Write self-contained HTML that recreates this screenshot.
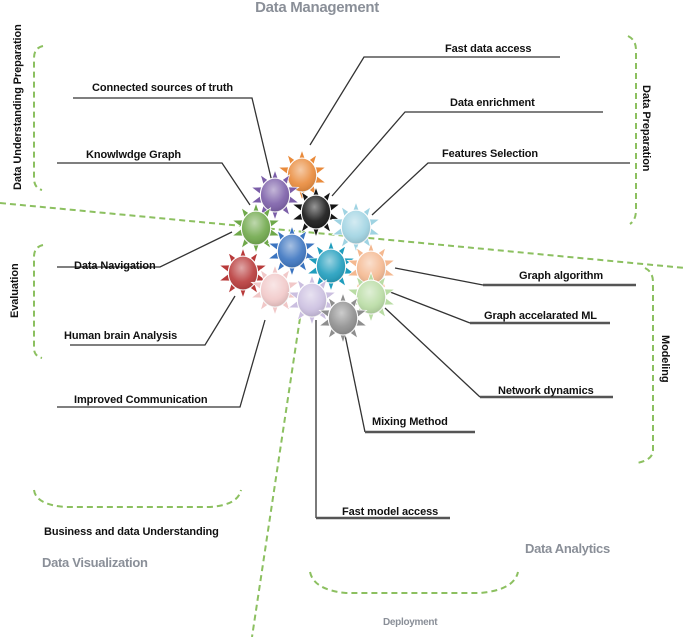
<!DOCTYPE html>
<html><head><meta charset="utf-8"><style>
html,body{margin:0;padding:0;background:#fff;}
svg{display:block;font-family:"Liberation Sans",sans-serif;}
.l{font-size:11px;font-weight:bold;fill:#111;letter-spacing:-0.1px;}
.g{font-weight:bold;fill:#8a8f98;letter-spacing:-0.3px;}
.d{fill:none;stroke:#8cc060;stroke-width:2;stroke-dasharray:6,4;}
.k{fill:none;stroke:#333;stroke-width:1.3;}
.h{fill:none;stroke:#555;stroke-width:2.5;}
</style></head><body>
<svg width="685" height="637" viewBox="0 0 685 637" xmlns="http://www.w3.org/2000/svg">
<defs>
<radialGradient id="sh" cx="0.45" cy="0.35" r="0.7">
<stop offset="0" stop-color="#fff" stop-opacity="0.55"/>
<stop offset="0.6" stop-color="#fff" stop-opacity="0.1"/>
<stop offset="1" stop-color="#000" stop-opacity="0.15"/>
</radialGradient>
<symbol id="gear" viewBox="-23 -23 46 46" overflow="visible">
<polygon fill="currentColor" stroke="#fff" stroke-width="0.6" points="0,-22 3.7,-11.4 12.9,-17.8 9.7,-7.1 20.9,-6.8 12,0 20.9,6.8 9.7,7.1 12.9,17.8 3.7,11.4 0,22 -3.7,11.4 -12.9,17.8 -9.7,7.1 -20.9,6.8 -12,0 -20.9,-6.8 -9.7,-7.1 -12.9,-17.8 -3.7,-11.4"/>
<ellipse cx="0" cy="0" rx="13" ry="15" fill="currentColor" stroke="#fff" stroke-width="1"/>
<ellipse cx="0" cy="0" rx="13" ry="15" fill="url(#sh)"/>
</symbol>
</defs>

<path class="d" d="M0,203 L685,268"/>
<path class="d" d="M300,318 L252,637"/>
<path class="d" d="M43,46 Q34,48 34,58 L34,178 Q34,188 42,190"/>
<path class="d" d="M628,36 Q636,40 636,50 L636,210 Q636,220 630,224"/>
<path class="d" d="M43,245 Q34,247 34,257 L34,348 Q34,356 42,358"/>
<path class="d" d="M645,268 Q653,272 653,282 L653,450 Q653,460 637,463"/>
<path class="d" d="M34,490 Q36,505 66,507 L210,507 Q238,505 241,490"/>
<path class="d" d="M310,572 Q314,590 346,593 L480,593 Q514,590 518,572"/>

<path class="k" d="M73,98 L252,98 L272,182"/>
<path class="k" d="M560,57 L364,57 L310,145"/>
<path class="k" d="M603,112 L405,112 L332,196"/>
<path class="k" d="M630,163 L428,163 L372,215"/>
<path class="k" d="M57,163 L222,163 L250,205"/>
<path class="k" d="M57,267 L160,267 L232,232"/>
<path class="k" d="M395,268 L483,285"/>
<path class="h" d="M483,285 L636,285"/>
<path class="k" d="M385,290 L470,323"/>
<path class="h" d="M470,323 L610,323"/>
<path class="k" d="M385,308 L480,397"/>
<path class="h" d="M480,397 L613,397"/>
<path class="k" d="M345,335 L365,432"/>
<path class="h" d="M365,432 L475,432"/>
<path class="k" d="M316,320 L316,518"/>
<path class="h" d="M316,518 L450,518"/>
<path class="k" d="M265,320 L240,407 L57,407"/>
<path class="k" d="M235,296 L205,345 L70,345"/>

<use href="#gear" x="276" y="149" width="52" height="52" style="color:#e98a3a"/>
<use href="#gear" x="249" y="169" width="52" height="52" style="color:#7b5ea8"/>
<use href="#gear" x="290" y="186" width="52" height="52" style="color:#151515"/>
<use href="#gear" x="230" y="202" width="52" height="52" style="color:#6fa84a"/>
<use href="#gear" x="330" y="201" width="52" height="52" style="color:#9fd3e2"/>
<use href="#gear" x="266" y="225" width="52" height="52" style="color:#3b74c0"/>
<use href="#gear" x="305" y="240" width="52" height="52" style="color:#1f9dbd"/>
<use href="#gear" x="345" y="242" width="52" height="52" style="color:#f4b890"/>
<use href="#gear" x="217" y="247" width="52" height="52" style="color:#b83a3a"/>
<use href="#gear" x="249" y="264" width="52" height="52" style="color:#f1c8c8"/>
<use href="#gear" x="286" y="274" width="52" height="52" style="color:#cbbfe0"/>
<use href="#gear" x="345" y="271" width="52" height="52" style="color:#b9dca4"/>
<use href="#gear" x="317" y="292" width="52" height="52" style="color:#8e8e8e"/>

<text class="l" x="92" y="91">Connected sources of truth</text>
<text class="l" x="445" y="52">Fast data access</text>
<text class="l" x="450" y="106">Data enrichment</text>
<text class="l" x="442" y="157">Features Selection</text>
<text class="l" x="86" y="158">Knowlwdge Graph</text>
<text class="l" x="74" y="269">Data Navigation</text>
<text class="l" x="519" y="279">Graph algorithm</text>
<text class="l" x="484" y="319">Graph accelarated ML</text>
<text class="l" x="498" y="394">Network dynamics</text>
<text class="l" x="372" y="425">Mixing Method</text>
<text class="l" x="342" y="515">Fast model access</text>
<text class="l" x="74" y="403">Improved Communication</text>
<text class="l" x="64" y="339">Human brain Analysis</text>
<text class="l" x="44" y="535">Business and data Understanding</text>

<text class="g" x="317" y="12" font-size="15" text-anchor="middle">Data Management</text>
<text class="g" x="42" y="567" font-size="13">Data Visualization</text>
<text class="g" x="525" y="553" font-size="13">Data Analytics</text>
<text class="g" x="383" y="625" font-size="10">Deployment</text>

<text class="l" transform="translate(21,190) rotate(-90)">Data Understanding Preparation</text>
<text class="l" transform="translate(643,85) rotate(90)">Data Preparation</text>
<text class="l" transform="translate(18,318) rotate(-90)">Evaluation</text>
<text class="l" transform="translate(662,335) rotate(90)">Modeling</text>
</svg>
</body></html>
